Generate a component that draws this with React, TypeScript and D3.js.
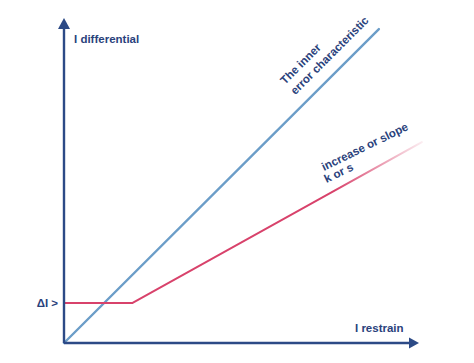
import React from "react";
import * as d3 from "d3";

const WIDTH = 474;
const HEIGHT = 363;

// axis extents in data units (arbitrary current units)
const X_MAX = 100;
const Y_MAX = 100;

// inner error characteristic: straight line through the origin
const innerErrorLine = [
  { x: 0, y: 0 },
  { x: 88.7, y: 96.6 },
];

// differential characteristic: flat at ΔI, then rising with slope k
const slopeLine = [
  { x: 0, y: 12.3 },
  { x: 19.2, y: 12.3 },
  { x: 100.8, y: 61.8 },
];

const DELTA_I = 12.3;

const NAVY = "#2c4a86";
const TEXT = "#2a427c";
const BLUE = "#6b9dc8";
const RED = "#d8426b";
const FONT = "'Liberation Sans', Arial, Helvetica, sans-serif";

export default function App() {
  const x = d3.scaleLinear().domain([0, X_MAX]).range([64, 419]);
  const y = d3.scaleLinear().domain([0, Y_MAX]).range([343, 18]);

  const line = d3
    .line<{ x: number; y: number }>()
    .x((d) => x(d.x))
    .y((d) => y(d.y));

  const x0 = x(0);
  const y0 = y(0);
  const xEnd = x(X_MAX);
  const yEnd = y(Y_MAX);

  // angle of the rising red segment, for the label
  const a = slopeLine[1];
  const b = slopeLine[2];
  const slopeAngle =
    (Math.atan2(y(b.y) - y(a.y), x(b.x) - x(a.x)) * 180) / Math.PI;

  const textStyle = {
    fontFamily: FONT,
    fontWeight: 700,
    fontSize: 11.5,
    fill: TEXT,
  };

  return (
    <div style={{ position: "fixed", left: 0, top: 0 }}>
      <svg width={WIDTH} height={HEIGHT} style={{ display: "block" }}>
        <defs>
          <linearGradient
            id="redFade"
            gradientUnits="userSpaceOnUse"
            x1={x(a.x)}
            y1={y(a.y)}
            x2={x(b.x)}
            y2={y(b.y)}
          >
            <stop offset="0%" stopColor={RED} />
            <stop offset="70%" stopColor={RED} />
            <stop offset="100%" stopColor={RED} stopOpacity={0.1} />
          </linearGradient>
        </defs>
        <rect width={WIDTH} height={HEIGHT} fill="#fff" />

        {/* lines */}
        <path
          d={line(innerErrorLine) || ""}
          fill="none"
          stroke={BLUE}
          strokeWidth={2.4}
          strokeLinecap="round"
        />
        <path
          d={line(slopeLine.slice(0, 2)) || ""}
          fill="none"
          stroke={RED}
          strokeWidth={2}
        />
        <path
          d={line(slopeLine.slice(1)) || ""}
          fill="none"
          stroke="url(#redFade)"
          strokeWidth={2}
          strokeLinecap="round"
        />

        {/* axes */}
        <line
          x1={x0}
          y1={y0}
          x2={x0}
          y2={yEnd + 10}
          stroke={NAVY}
          strokeWidth={2.4}
        />
        <path
          d={`M${x0},${yEnd} L${x0 + 6},${yEnd + 11} L${x0 - 6},${yEnd + 11} Z`}
          fill={NAVY}
        />
        <line
          x1={x0}
          y1={y0}
          x2={xEnd - 10}
          y2={y0}
          stroke={NAVY}
          strokeWidth={2.4}
        />
        <path
          d={`M${xEnd},${y0} L${xEnd - 10},${y0 - 5.5} L${xEnd - 10},${y0 + 5.5} Z`}
          fill={NAVY}
        />

        {/* axis titles */}
        <text x={x0 + 10} y={yEnd + 25} style={textStyle}>
          I differential
        </text>
        <text x={xEnd - 64} y={y0 - 11} style={textStyle}>
          I restrain
        </text>
        <text
          x={x0 - 6}
          y={y(DELTA_I) + 4}
          textAnchor="end"
          style={textStyle}
        >
          ΔI &gt;
        </text>

        {/* line annotations */}
        <g transform="translate(285,85) rotate(-45)">
          <text x={0} y={0} style={textStyle}>
            The inner
          </text>
          <text x={0} y={14.5} style={textStyle}>
            error characteristic
          </text>
        </g>
        <g transform={`translate(324,171) rotate(${slopeAngle + 3})`}>
          <text x={0} y={0} style={textStyle}>
            increase or slope
          </text>
          <text x={-3} y={12} style={textStyle}>
            k or s
          </text>
        </g>
      </svg>
    </div>
  );
}
